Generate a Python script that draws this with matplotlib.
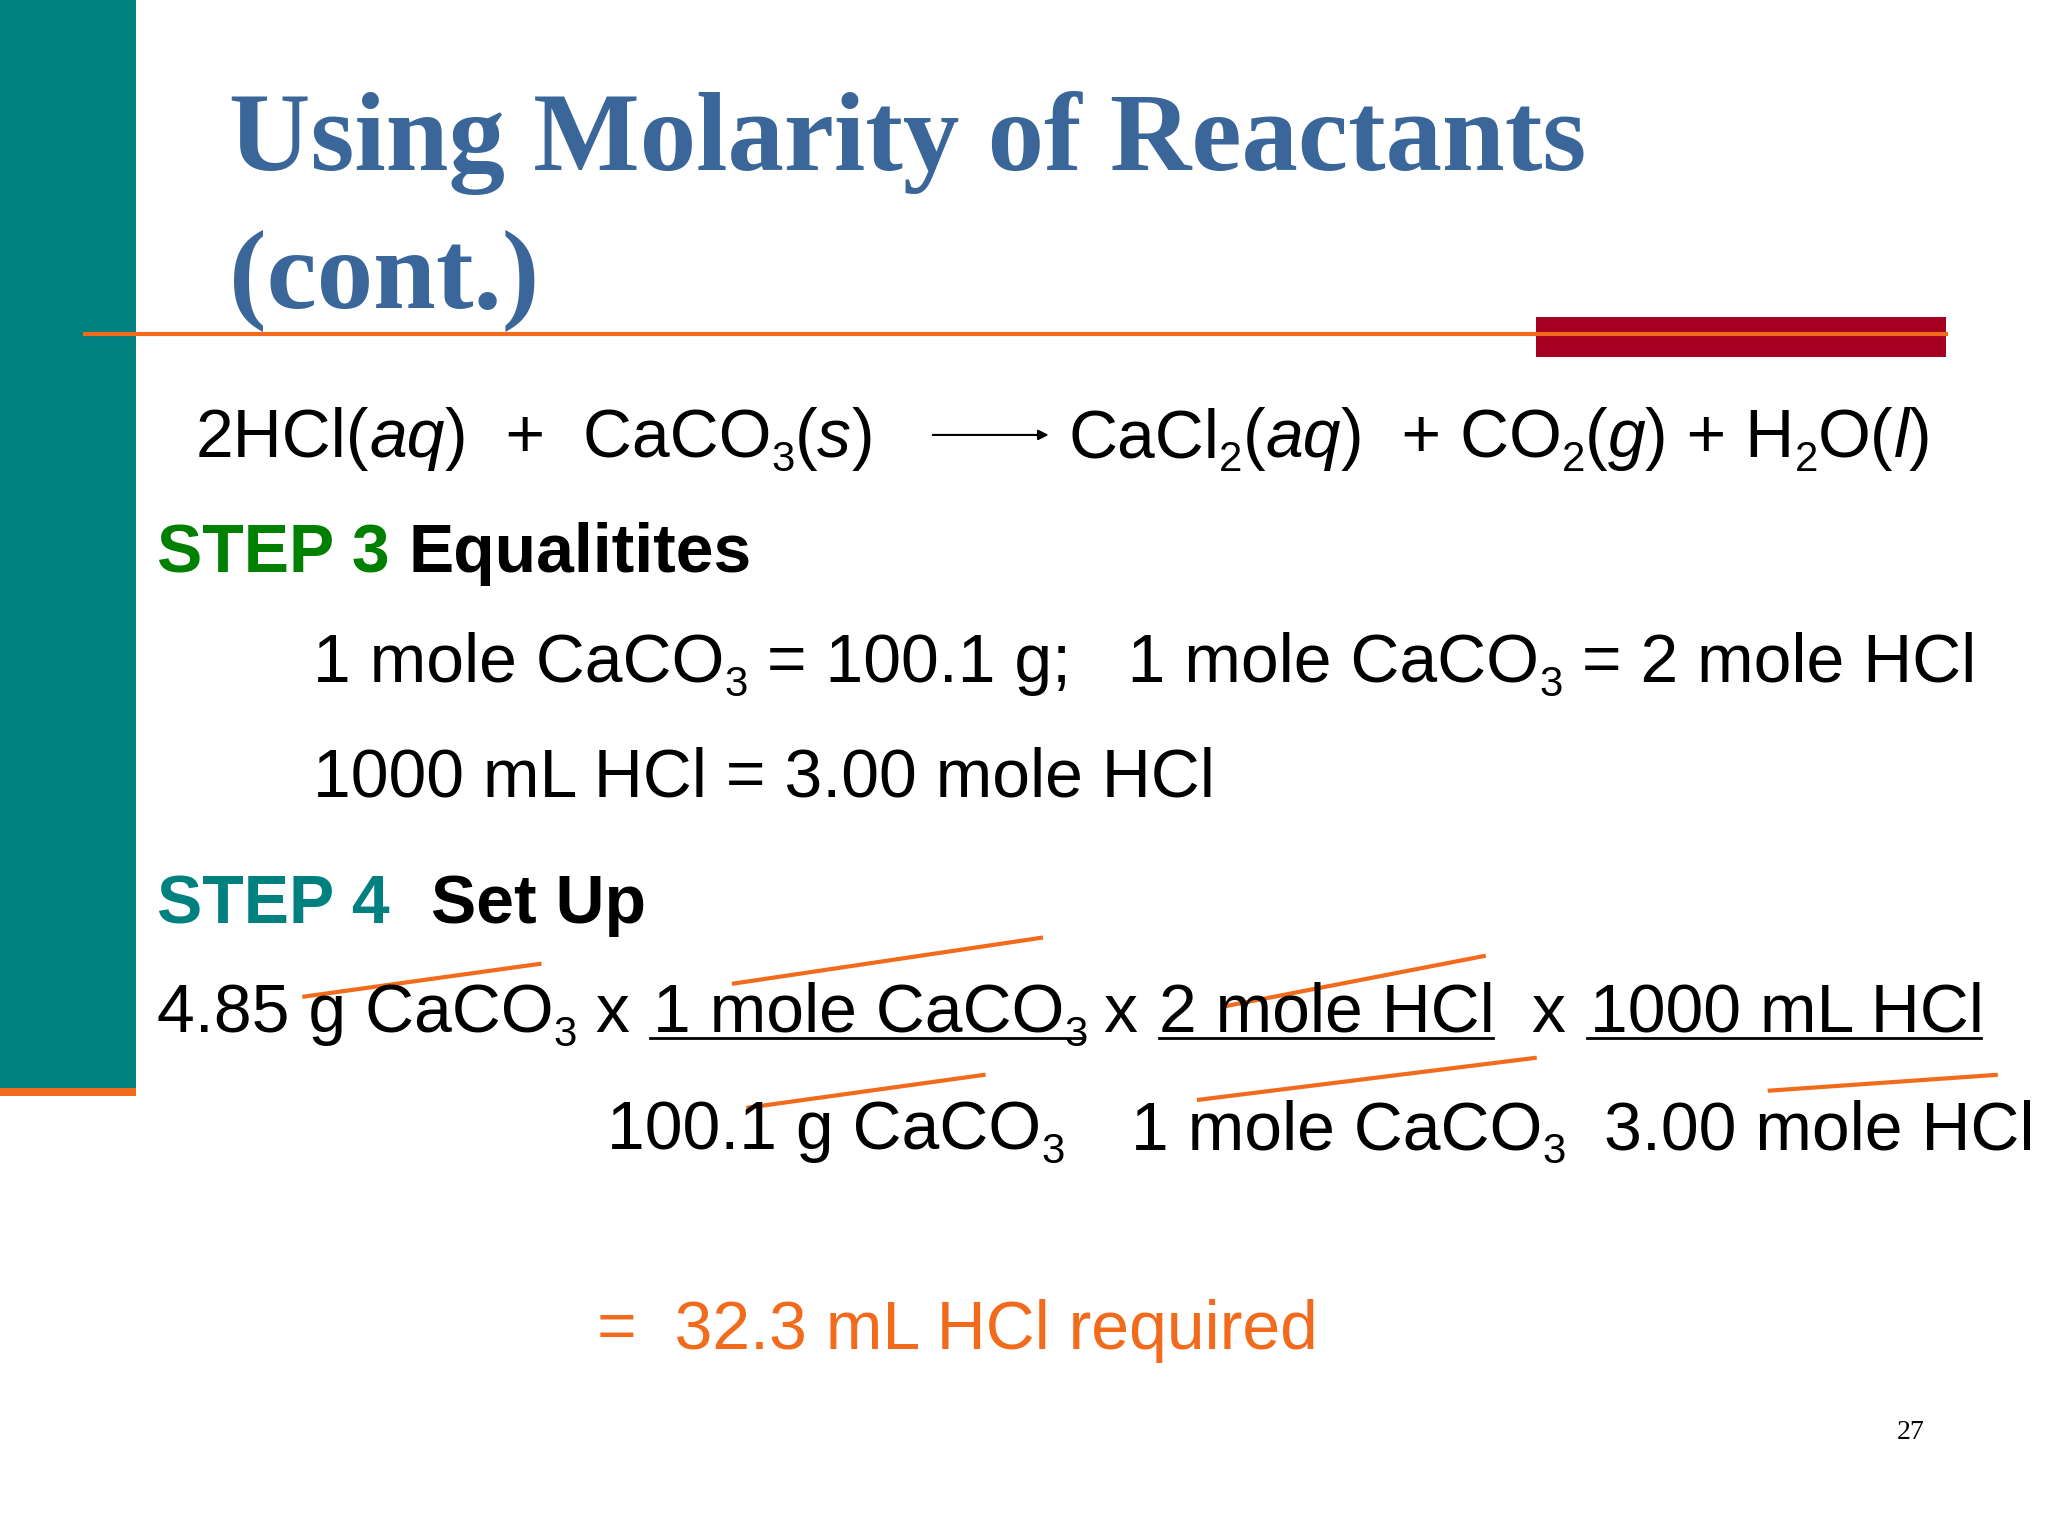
import matplotlib
matplotlib.use("Agg")
import matplotlib.pyplot as plt
from matplotlib.patches import Rectangle

W, H = 1568, 1176
S = 2048 / W
fig = plt.figure(figsize=(20.48, 15.36), dpi=100)
ax = fig.add_axes([0, 0, 1, 1])
ax.set_xlim(0, W); ax.set_ylim(H, 0); ax.axis("off")
r = fig.canvas.get_renderer()

TEAL = "#00807F"; ORANGE = "#F26B1D"; BLUE = "#3A6699"; GREEN = "#008000"

def pt(cap, capr=0.716):
    return cap / capr * S * 0.72

FS = pt(40) * 0.93
SANS = "Liberation Sans"

def runs(x, y, items, size=FS, color="black", weight="normal"):
    for txt, kind in items:
        style = "italic" if kind == "i" else "normal"
        sz = size * 0.62 if kind == "s" else size
        yy = y + size * 0.22 if kind == "s" else y
        t = ax.text(x, yy, txt, fontsize=sz, family=SANS, style=style,
                    weight=weight, color=color, va="baseline", ha="left")
        w = t.get_window_extent(r).width
        x += w / S
    return x

# decorations
ax.add_patch(Rectangle((0, 0), 104, 833, color=TEAL, lw=0))
ax.add_patch(Rectangle((0, 833), 104, 6, color=ORANGE, lw=0))
ax.add_patch(Rectangle((1176, 243), 314, 30, color="#A50021", lw=0))
ax.plot([65, 1490], [256, 256], color=ORANGE, lw=3)

# title
tfs = pt(62, 0.66) * 0.92
ax.text(175, 130, "Using Molarity of Reactants", fontsize=tfs, family="Liberation Serif",
        weight="bold", color=BLUE, va="baseline")
ax.text(175, 235, "(cont.)", fontsize=tfs, family="Liberation Serif",
        weight="bold", color=BLUE, va="baseline")

# equation
runs(150, 350, [("2HCl(", "n"), ("aq", "i"), (")  +  CaCO", "n"), ("3", "s"),
                ("(", "n"), ("s", "i"), (")", "n")])
ax.annotate("", xy=(805, 333), xytext=(712, 333),
            arrowprops=dict(arrowstyle="-|>", color="black", lw=1.5, mutation_scale=15))
runs(818, 350, [("CaCl", "n"), ("2", "s"), ("(", "n"), ("aq", "i"), (")  + CO", "n"),
                ("2", "s"), ("(", "n"), ("g", "i"), (") + H", "n"), ("2", "s"),
                ("O(", "n"), ("l", "i"), (")", "n")])

# step 3
x = runs(120, 438, [("STEP 3 ", "n")], color=GREEN, weight="bold")
runs(x, 438, [("Equalitites", "n")], weight="bold")
runs(240, 522, [("1 mole CaCO", "n"), ("3", "s"), (" = 100.1 g;   1 mole CaCO", "n"),
                ("3", "s"), (" = 2 mole HCl", "n")])
runs(240, 610, [("1000 mL HCl = 3.00 mole HCl", "n")])

# step 4
runs(120, 707, [("STEP 4", "n")], color=TEAL, weight="bold")
runs(330, 707, [("Set Up", "n")], weight="bold")

runs(120, 790, [("4.85 g CaCO", "n"), ("3", "s"), (" x", "n")])
runs(500, 790, [("1 mole CaCO", "n"), ("3", "s")])
runs(845, 790, [("x", "n")])
runs(887, 790, [("2 mole HCl", "n")])
runs(1172, 790, [("x", "n")])
runs(1217, 790, [("1000 mL HCl", "n")])
for a, b in [(498, 830), (887, 1143), (1215, 1517)]:
    ax.plot([a, b], [795, 795], color="black", lw=2)

runs(465, 880, [("100.1 g CaCO", "n"), ("3", "s")])
runs(866, 880, [("1 mole CaCO", "n"), ("3", "s")])
runs(1228, 880, [("3.00 mole HCl", "n")])

for (x1, y1), (x2, y2) in [((233, 763), (413, 738)), ((562, 753), (797, 718)),
                           ((940, 770), (1136, 732)), ((573, 848), (753, 823)),
                           ((918, 842), (1175, 810)), ((1355, 835), (1528, 823))]:
    ax.plot([x1, x2], [y1, y2], color=ORANGE, lw=3)

runs(457, 1033, [("=  32.3 mL HCl required", "n")], color=ORANGE)
ax.text(1452, 1102, "27", fontsize=pt(14, 0.66), family="Liberation Serif",
        color="black", va="baseline")

fig.savefig("out.png", dpi=100)
